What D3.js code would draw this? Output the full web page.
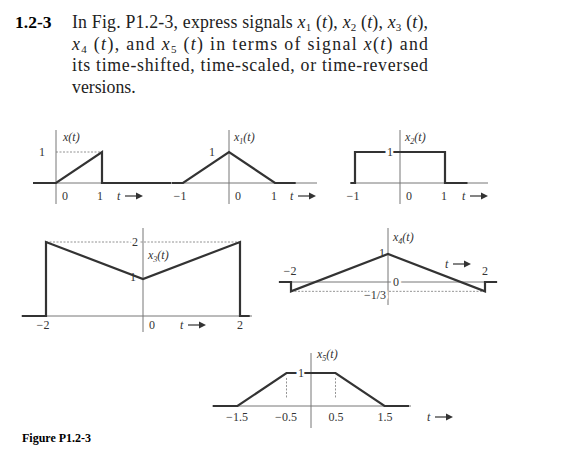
<!DOCTYPE html>
<html><head><meta charset="utf-8">
<script src="https://cdn.jsdelivr.net/npm/d3@7"></script>
<style>
body{margin:0;background:#fff}
svg{font-family:"Liberation Serif","Times New Roman",serif;display:block}
</style></head>
<body><svg id="c" width="587" height="457"></svg>
<script>
// signal data: [t, value]
const xSig = [[-0.5,0],[0,0],[1,1],[1,0],[2.5,0]];
const x1Sig = [[-1.25,0],[-1,0],[0,1],[1,0],[1.45,0]];
const x2Sig = [[-1.1,0],[-1,0],[-1,1],[1,1],[1,0],[1.5,0]];
const x3Sig = [[-2.5,0],[-2,0],[-2,2],[0,1],[2,2],[2,0],[2.2,0]];
const x4Sig = [[-2.25,0],[-2,0],[-2,-1/3],[0,1],[2,-1/3],[2,0],[2.25,0]];
const x5Sig = [[-2,0],[-1.5,0],[-0.5,1],[0.5,1],[1.5,0],[2,0]];

const xs = n => `<tspan font-style="italic">x</tspan><tspan font-size="11" dy="3">${n}</tspan><tspan dy="-3"> (</tspan><tspan font-style="italic">t</tspan>)`;
const xp = `<tspan font-style="italic">x</tspan>(<tspan font-style="italic">t</tspan>)`;
const textLines = [
  `In Fig. P1.2-3, express signals ${xs(1)}, ${xs(2)}, ${xs(3)},`,
  `${xs(4)}, and ${xs(5)} in terms of signal ${xp} and`,
  "its time-shifted, time-scaled, or time-reversed",
  "versions."
];

const svg = d3.select("#c");
const ink = "#333";

svg.append("text").attr("x", 15).attr("y", 28).attr("font-size", 17.5).attr("font-weight", "bold").text("1.2-3");
textLines.forEach((s, i) => {
  const t = svg.append("text").attr("x", 72).attr("y", 28 + i * 21.5).attr("font-size", 17.8).attr("fill", "#222").html(s);
  if (i < 3) t.attr("textLength", 356).attr("lengthAdjust", "spacing");
});
svg.append("text").attr("x", 22).attr("y", 442).attr("font-size", 12).attr("font-weight", "bold").text("Figure P1.2-3");

function panel(p) {
  const x = d3.scaleLinear().domain(p.xd).range(p.xr);
  const y = d3.scaleLinear().domain(p.yd).range(p.yr);
  const g = svg.append("g");
  g.append("line").attr("x1", p.ax0).attr("x2", p.ax1).attr("y1", y(0)).attr("y2", y(0)).attr("stroke", "#777").attr("stroke-width", 1);
  g.append("line").attr("x1", x(0)).attr("x2", x(0)).attr("y1", p.vy[0]).attr("y2", p.vy[1]).attr("stroke", "#777").attr("stroke-width", 1);
  (p.dots || []).forEach(d => g.append("line").attr("x1", x(d[0])).attr("y1", y(d[1])).attr("x2", x(d[2])).attr("y2", y(d[3]))
    .attr("stroke", "#777").attr("stroke-dasharray", "2,1.5").attr("stroke-width", 0.8));
  g.append("path").attr("d", d3.line().x(d => x(d[0])).y(d => y(d[1]))(p.data))
    .attr("fill", "none").attr("stroke", ink).attr("stroke-width", 2.2);
  (p.labels || []).forEach(l => {
    const t = g.append("text").attr("x", l[0]).attr("y", l[1]).attr("font-size", l[3] || 12)
      .attr("text-anchor", l[4] || "middle").attr("fill", "#333").text(l[2]);
    if (l[5]) t.attr("stroke", "#fff").attr("stroke-width", 5).attr("paint-order", "stroke");
  });
  (p.ital || []).forEach(l => {
    g.append("text").attr("x", l[0]).attr("y", l[1]).attr("font-size", 12).attr("font-style", "italic").attr("fill", "#333").html(l[2]);
  });
  if (p.arrow) {
    const [ax, ay] = p.arrow;
    g.append("text").attr("x", ax).attr("y", ay).attr("font-size", 12).attr("font-style", "italic").attr("fill", "#333").text("t");
    g.append("line").attr("x1", ax + 8).attr("x2", ax + 22).attr("y1", ay - 4).attr("y2", ay - 4).attr("stroke", "#333").attr("stroke-width", 1.2);
    g.append("path").attr("d", `M${ax + 26},${ay - 4}L${ax + 19},${ay - 7.5}L${ax + 19},${ay - 0.5}Z`).attr("fill", "#333");
  }
}

const sub = n => `x<tspan font-size="8" dy="3">${n}</tspan><tspan dy="-3">(t)</tspan>`;

panel({ data: xSig, xd: [0, 1], xr: [56, 102], yd: [0, 1], yr: [183, 152], ax0: 33, ax1: 143, vy: [130, 204],
  dots: [[0, 1, 1, 1]], labels: [[62, 200, "0", 12, "start"], [100, 200, "1"], [42, 156, "1"]],
  ital: [[63, 141, "x(t)"]], arrow: [117, 200] });
panel({ data: x1Sig, xd: [0, 1], xr: [229, 275], yd: [0, 1], yr: [183, 152], ax0: 172, ax1: 317, vy: [130, 204],
  labels: [[180, 200, "−1"], [235, 200, "0", 12, "start"], [274, 200, "1"], [212, 156, "1"]],
  ital: [[234, 141, sub(1)]], arrow: [290, 200] });
panel({ data: x2Sig, xd: [0, 1], xr: [400, 445], yd: [0, 1], yr: [183, 152], ax0: 350, ax1: 488, vy: [130, 204],
  labels: [[353, 200, "−1"], [406, 200, "0", 12, "start"], [444, 200, "1"], [390, 156, "1", 12, "middle", true]],
  ital: [[405, 141, sub(2)]], arrow: [462, 200] });
panel({ data: x3Sig, xd: [0, 2], xr: [143, 240], yd: [0, 2], yr: [316, 242], ax0: 33, ax1: 252, vy: [228, 332],
  dots: [[-2, 2, 2, 2]], labels: [[43, 329, "−2"], [149, 329, "0", 12, "start"], [240, 329, "2"],
    [135, 246, "2", 12, "middle", true], [133, 281, "1"]],
  ital: [[148, 259, sub(3)]], arrow: [180, 329] });
panel({ data: x4Sig, xd: [0, 2], xr: [388, 485], yd: [0, 1], yr: [282, 254], ax0: 280, ax1: 497, vy: [228, 305],
  dots: [[-2, -1/3, 2, -1/3]], labels: [[290, 275, "−2"], [485, 275, "2"], [382, 257, "1"],
    [396, 286, "0", 12, "middle", true], [375, 299, "−1/3", 12, "middle", true]],
  ital: [[393, 241, sub(4)]], arrow: [445, 268] });
panel({ data: x5Sig, xd: [0, 1], xr: [311, 360], yd: [0, 1], yr: [406, 373], ax0: 212, ax1: 411, vy: [353, 428],
  dots: [[-0.5, 0.85, -0.5, 0.22], [0.5, 0.85, 0.5, 0.22]],
  labels: [[237, 421, "−1.5"], [286, 421, "−0.5"], [336, 421, "0.5"], [385, 421, "1.5"], [301, 377, "1", 12, "middle", true]],
  ital: [[317, 358, sub(5)]], arrow: [427, 421] });
</script></body></html>
